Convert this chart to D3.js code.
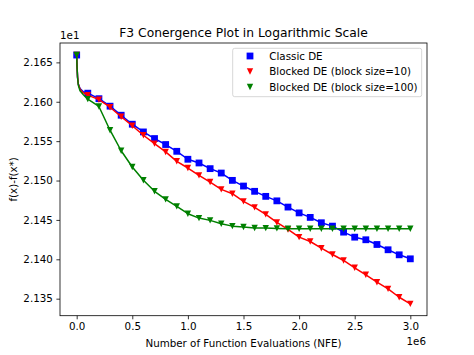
<!DOCTYPE html>
<html>
<head>
<meta charset="utf-8">
<script src="https://cdn.jsdelivr.net/npm/d3@7"></script>
<style>
  html, body { margin: 0; padding: 0; background: #fff; }
  svg { display: block; font-family: "DejaVu Sans", sans-serif; }
</style>
</head>
<body>
<svg id="chart" width="474" height="355"></svg>
<script>
// ---- Data (y values shown in units of 1e1, x in NFE) ----
const nfe = [0, 100000, 200000, 300000, 400000, 500000, 600000, 700000, 800000, 900000,
  1000000, 1100000, 1200000, 1300000, 1400000, 1500000, 1600000, 1700000, 1800000, 1900000,
  2000000, 2100000, 2200000, 2300000, 2400000, 2500000, 2600000, 2700000, 2800000, 2900000, 3000000];

const classicDE = [2.16593, 2.16109, 2.16039, 2.15944, 2.15829, 2.15715, 2.15617, 2.15533, 2.15457, 2.15371,
  2.15270, 2.15223, 2.15151, 2.15095, 2.15002, 2.14930, 2.14863, 2.14799, 2.14742, 2.14663,
  2.14589, 2.14532, 2.14464, 2.14421, 2.14345, 2.14281, 2.14248, 2.14188, 2.14121, 2.14057, 2.14006];

const blockedDE10 = [2.16593, 2.16084, 2.16027, 2.15931, 2.15810, 2.15696, 2.15575, 2.15469, 2.15363, 2.15244,
  2.15159, 2.15066, 2.14981, 2.14888, 2.14833, 2.14735, 2.14659, 2.14570, 2.14468, 2.14379,
  2.14281, 2.14226, 2.14141, 2.14061, 2.13985, 2.13892, 2.13803, 2.13709, 2.13625, 2.13518, 2.13434];

const blockedDE100 = [2.16593, 2.16033, 2.15940, 2.15639, 2.15378, 2.15172, 2.15003, 2.14863, 2.14761, 2.14672,
  2.14579, 2.14523, 2.14494, 2.14452, 2.14421, 2.14411, 2.14398, 2.14396, 2.14392, 2.14388,
  2.14388, 2.14388, 2.14388, 2.14388, 2.14388, 2.14388, 2.14388, 2.14388, 2.14388, 2.14388, 2.14388];

// extra unmarked line samples at the very start (steep initial drop)
const nfeEarly = [3000, 8000, 15000, 30000, 60000];
const classicEarly = [2.16453, 2.16313, 2.16224, 2.16167, 2.16128];
const blocked10Early = [2.16453, 2.16313, 2.16222, 2.16160, 2.16112];
const blocked100Early = [2.16450, 2.16305, 2.16210, 2.16140, 2.16090];

const xTicks = [0, 500000, 1000000, 1500000, 2000000, 2500000, 3000000];
const yTicks = [2.135, 2.140, 2.145, 2.150, 2.155, 2.160, 2.165];

const seriesNames = ["Classic DE", "Blocked DE (block size=10)", "Blocked DE (block size=100)"];
const seriesColors = ["#0000ff", "#ff0000", "#008000"];
const seriesMarkers = ["square", "tri", "tri"];

const titleText = "F3 Conergence Plot in Logarithmic Scale";
const xLabel = "Number of Function Evaluations (NFE)";
const yLabel = "f(x)-f(x*)";

// ---- Layout ----
const svg = d3.select("#chart");
const L = 60, R = 427, T = 43, B = 315.7;
const fs = 10.3;

const x = d3.scaleLinear().domain([-150000, 3150000]).range([L, R]);
const y = d3.scaleLinear().domain([2.13284, 2.16746]).range([B, T]);

function buildLine(early, vals) {
  const pts = [[nfe[0], vals[0]]];
  nfeEarly.forEach((n, i) => pts.push([n, early[i]]));
  for (let i = 1; i < nfe.length; i++) pts.push([nfe[i], vals[i]]);
  return pts;
}

const series = [
  { vals: classicDE, early: classicEarly },
  { vals: blockedDE10, early: blocked10Early },
  { vals: blockedDE100, early: blocked100Early }
];

const plot = svg.append("g");

const line = d3.line().x(d => x(d[0])).y(d => y(d[1]));
const ms = 6.4;   // triangle size
const sq = 6.8;   // square size
const tri = "M" + (-ms / 2) + "," + (-ms / 2) + "L" + (ms / 2) + "," + (-ms / 2) + "L0," + (ms / 2) + "Z";

series.forEach((s, k) => {
  const g = plot.append("g");
  g.append("path")
    .datum(buildLine(s.early, s.vals))
    .attr("d", line)
    .attr("fill", "none")
    .attr("stroke", seriesColors[k])
    .attr("stroke-width", 1.5)
    .attr("stroke-linejoin", "round");
  const pts = nfe.map((n, i) => [n, s.vals[i]]);
  if (seriesMarkers[k] === "square") {
    g.selectAll("rect").data(pts).enter().append("rect")
      .attr("x", d => x(d[0]) - sq / 2).attr("y", d => y(d[1]) - sq / 2)
      .attr("width", sq).attr("height", sq)
      .attr("fill", seriesColors[k]);
  } else {
    g.selectAll("path.m").data(pts).enter().append("path")
      .attr("class", "m")
      .attr("d", tri)
      .attr("transform", d => `translate(${x(d[0])},${y(d[1])})`)
      .attr("fill", seriesColors[k]);
  }
});

// ---- Axes ----
const xAxis = d3.axisBottom(x).tickValues(xTicks).tickSize(3.6).tickPadding(3.6)
  .tickFormat(d => (d / 1e6).toFixed(1));
const yAxis = d3.axisLeft(y).tickValues(yTicks).tickSize(3.6).tickPadding(3.6)
  .tickFormat(d => d.toFixed(3));

const gx = svg.append("g").attr("transform", `translate(0,${B})`).call(xAxis);
const gy = svg.append("g").attr("transform", `translate(${L},0)`).call(yAxis);
[gx, gy].forEach(g => {
  g.select(".domain").remove();
  g.selectAll("line").attr("stroke", "#000").attr("stroke-width", 0.8);
  g.selectAll("text").attr("font-size", fs).attr("fill", "#000")
    .attr("font-family", "DejaVu Sans, sans-serif");
});

// spines
svg.append("rect").attr("x", L).attr("y", T).attr("width", R - L).attr("height", B - T)
  .attr("fill", "none").attr("stroke", "#000").attr("stroke-width", 0.8);

// offset labels
svg.append("text").attr("x", L).attr("y", 39).attr("font-size", fs).text("1e1");
svg.append("text").attr("x", R - 1).attr("y", 345).attr("font-size", fs)
  .attr("text-anchor", "end").text("1e6");

// title and labels
svg.append("text").attr("x", (L + R) / 2).attr("y", 37).attr("text-anchor", "middle")
  .attr("font-size", 12.3).text(titleText);
svg.append("text").attr("x", (L + R) / 2).attr("y", 346.5).attr("text-anchor", "middle")
  .attr("font-size", fs).text(xLabel);
svg.append("text").attr("transform", `translate(16.5,${(T + B) / 2}) rotate(-90)`)
  .attr("text-anchor", "middle").attr("font-size", fs).text(yLabel);

// ---- Legend ----
const lg = svg.append("g");
lg.append("rect").attr("x", 232.7).attr("y", 48.3).attr("width", 189).attr("height", 48.4)
  .attr("rx", 2).attr("fill", "#fff").attr("fill-opacity", 0.8)
  .attr("stroke", "#cccccc").attr("stroke-width", 0.8);
const rowY = [56, 71.5, 87];
seriesNames.forEach((name, k) => {
  const cx = 250, cy = rowY[k];
  if (seriesMarkers[k] === "square") {
    lg.append("rect").attr("x", cx - sq / 2).attr("y", cy - sq / 2).attr("width", sq).attr("height", sq)
      .attr("fill", seriesColors[k]);
  } else {
    lg.append("path").attr("d", tri).attr("transform", `translate(${cx},${cy})`)
      .attr("fill", seriesColors[k]);
  }
  lg.append("text").attr("x", 269.3).attr("y", cy).attr("dy", "0.35em")
    .attr("font-size", fs).text(name);
});
</script>
</body>
</html>
